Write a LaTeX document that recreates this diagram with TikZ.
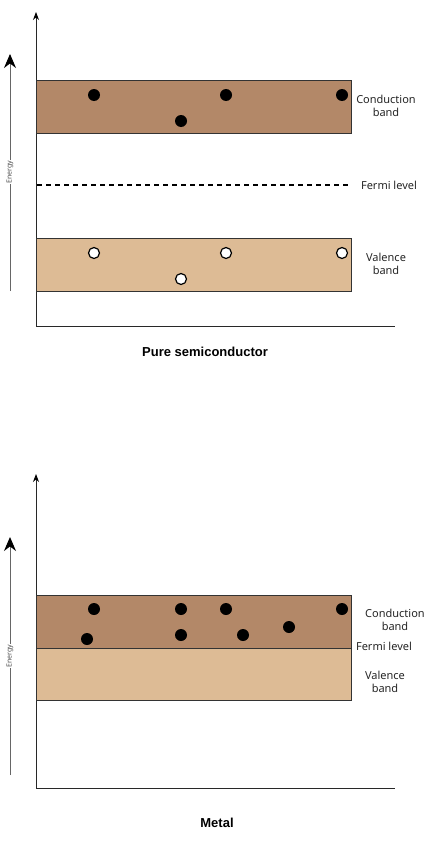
\documentclass[tikz,border=0pt]{standalone}
\usepackage{fontspec}
\setmainfont{Noto Sans}
\newfontfamily\titlefont{Liberation Sans}
\usetikzlibrary{arrows.meta}
\definecolor{cband}{RGB}{179,136,104}
\definecolor{vband}{RGB}{221,187,149}
\definecolor{axisc}{RGB}{40,40,40}
\begin{document}
\begin{tikzpicture}[x=1pt,y=-1pt,
  axis/.style={draw=axisc,line width=0.9pt,-{Stealth[length=8pt,width=6pt,color=black]}},
  energyarrow/.style={draw=black!60,line width=1pt,-{Stealth[length=14pt,width=12pt,color=black]}},
  bandbox/.style={draw=black!80,line width=0.8pt},
  electron/.style={circle,fill=black,inner sep=0pt,minimum size=12pt},
  hole/.style={circle,fill=white,draw=black,line width=1.2pt,inner sep=0pt,minimum size=11pt},
  lbl/.style={font=\fontsize{11}{13.5}\selectfont,align=center,text=black!85,inner sep=0pt},
  title/.style={font=\titlefont\fontsize{13}{15}\selectfont\bfseries,inner sep=0pt},
  elbl/.style={font=\fontsize{7}{8}\selectfont,rotate=90,fill=white,text=black!70,inner sep=1pt}]
\useasboundingbox (0,0) rectangle (435,867);
% ---------- Top panel ----------
\coordinate (o1) at (36,326);
\coordinate (y1) at (36,12);
\coordinate (x1) at (395,326);
\draw[axis] (o1) -- (y1);
\draw[draw=axisc,line width=0.9pt] (o1) -- (x1);
\coordinate (e1s) at (10,291);
\coordinate (e1e) at (10,54);
\draw[energyarrow] (e1s) -- (e1e);
\node[elbl] (en1) at (10,172) {Energy};
\path[fill=cband,bandbox] (36,80) rectangle (351,133);
\path[fill=vband,bandbox] (36,238) rectangle (351,291);
\coordinate (f1s) at (37,185);
\coordinate (f1e) at (349,185);
\draw[line width=1.1pt,dash pattern=on 5pt off 4pt] (f1s) -- (f1e);
\node[electron] (a1) at (94,95) {};
\node[electron] (a2) at (226,95) {};
\node[electron] (a3) at (342,95) {};
\node[electron] (a4) at (181,121) {};
\node[hole] (h1) at (94,253) {};
\node[hole] (h2) at (226,253) {};
\node[hole] (h3) at (342,253) {};
\node[hole] (h4) at (181,279) {};
\node[lbl] (cb1) at (386,106) {Conduction\\band};
\node[lbl] (fl1) at (389,185) {Fermi level};
\node[lbl] (vb1) at (386,264) {Valence\\band};
\node[title] (t1) at (205,352) {Pure semiconductor};
% ---------- Bottom panel ----------
\coordinate (o2) at (36,788);
\coordinate (y2) at (36,474);
\coordinate (x2) at (395,788);
\draw[axis] (o2) -- (y2);
\draw[draw=axisc,line width=0.9pt] (o2) -- (x2);
\coordinate (e2s) at (10,775);
\coordinate (e2e) at (10,537);
\draw[energyarrow] (e2s) -- (e2e);
\node[elbl] (en2) at (10,656) {Energy};
\path[fill=cband,bandbox] (36,595) rectangle (351,648);
\path[fill=vband,bandbox] (36,648) rectangle (351,700);
\node[electron] (b1) at (94,609) {};
\node[electron] (b2) at (181,609) {};
\node[electron] (b3) at (226,609) {};
\node[electron] (b4) at (342,609) {};
\node[electron] (b5) at (289,627) {};
\node[electron] (b6) at (87,639) {};
\node[electron] (b7) at (181,635) {};
\node[electron] (b8) at (243,635) {};
\node[lbl] (cb2) at (395,620) {Conduction\\band};
\node[lbl] (fl2) at (384,646) {Fermi level};
\node[lbl] (vb2) at (385,682) {Valence\\band};
\node[title] (t2) at (217,823) {Metal};
\end{tikzpicture}
\end{document}
